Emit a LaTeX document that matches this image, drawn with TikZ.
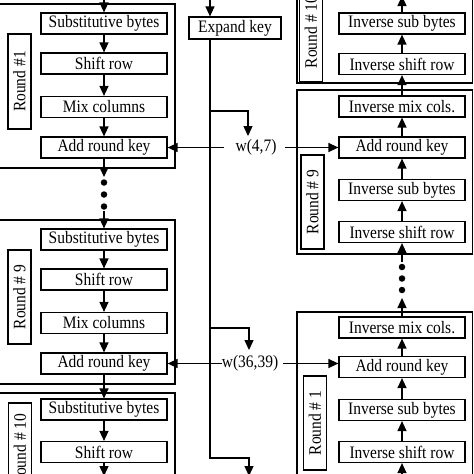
\documentclass[tikz,border=0pt]{standalone}
\usepackage{fontspec}
\setmainfont[FakeStretch=0.885]{Liberation Serif}
\usetikzlibrary{arrows.meta}
\begin{document}
\begin{tikzpicture}[x=1pt,y=-1pt,
  box/.style={draw, line width=1.2pt, minimum width=126pt, minimum height=21pt, inner sep=0pt, font=\fontsize{17.5}{19}\selectfont},
  lbl/.style={draw, line width=1.2pt, rotate=90, minimum height=23pt, inner sep=0pt, font=\fontsize{17.5}{19}\selectfont},
  frame/.style={draw, line width=1.2pt, inner sep=0pt},
  arr/.style={line width=1.3pt, -{Triangle[width=9pt,length=10pt]}},
  wlab/.style={inner sep=0pt, font=\fontsize{17.5}{19}\selectfont},
  dotc/.style={circle, fill, inner sep=0pt, minimum size=6.5pt}
]
\useasboundingbox (0,0) rectangle (474,474);
\clip (0,0) rectangle (474,474);
\fill[white] (0,0) rectangle (474,474);

% frames
\node[frame, minimum width=180pt, minimum height=164pt] (f1) at (85,86) {};
\node[frame, minimum width=180pt, minimum height=164pt] (f9) at (85,302) {};
\node[frame, minimum width=180pt, minimum height=167pt] (f10) at (85,476.5) {};
\node[frame, minimum width=175.5pt, minimum height=163pt] (g10) at (384.75,1.5) {};
\node[frame, minimum width=175.5pt, minimum height=164pt] (g9) at (384.75,172) {};
\node[frame, minimum width=175.5pt, minimum height=168pt] (g1) at (384.75,396) {};

% round labels
\node[lbl, minimum width=95pt] (l1) at (19.5,81.5) {Round \#1};
\node[lbl, minimum width=94pt] (l9) at (19.5,297) {Round \# 9};
\node[lbl, minimum width=94pt] (l10) at (20,450) {Round \# 10};
\node[lbl, minimum width=100pt] (r10) at (311,32) {Round \# 10};
\node[lbl, minimum width=94pt] (r9) at (312.5,202) {Round \# 9};
\node[lbl, minimum width=94pt] (r1) at (315,423) {Round \# 1};

% left column
\node[box] (s1) at (104,23.5) {Substitutive bytes};
\node[box] (sh1) at (104,63.5) {Shift row};
\node[box] (mx1) at (104,107) {Mix columns};
\node[box] (ad1) at (104,147.5) {Add round key};
\node[box] (s9) at (104,239.5) {Substitutive bytes};
\node[box] (sh9) at (104,279.5) {Shift row};
\node[box] (mx9) at (104,323) {Mix columns};
\node[box] (ad9) at (104,363.5) {Add round key};
\node[box] (s10) at (104,409.5) {Substitutive bytes};
\node[box] (sh10) at (104,452) {Shift row};

% right column
\node[box] (is10) at (402,23.5) {Inverse sub bytes};
\node[box] (ish10) at (402,64) {Inverse shift row};
\node[box] (im9) at (402,106.5) {Inverse mix cols.};
\node[box] (ad9d) at (402,147.5) {Add round key};
\node[box] (is9) at (402,190) {Inverse sub bytes};
\node[box] (ish9) at (402,232) {Inverse shift row};
\node[box] (im1) at (402,327.5) {Inverse mix cols.};
\node[box] (ad1d) at (402,367) {Add round key};
\node[box] (is1) at (402,410) {Inverse sub bytes};
\node[box] (ish1) at (402,452) {Inverse shift row};

% middle
\node[box, minimum width=92pt, minimum height=22pt] (exp) at (235,28) {Expand key};
\node[wlab] (w47) at (256,147.5) {w(4,7)};
\node[wlab] (w3639) at (250,363.5) {w(36,39)};

% left connectors
\coordinate (tL) at (104,-2);
\draw[arr] (tL) -- (s1);
\draw[arr] (s1) -- (sh1);
\draw[arr] (sh1) -- (mx1);
\draw[arr] (mx1) -- (ad1);
\coordinate (d1) at (104,177);
\draw[arr] (ad1) -- (d1);
\node[dotc] (dl1) at (104,182.5) {};
\node[dotc] (dl2) at (104,194.5) {};
\node[dotc] (dl3) at (104,206.5) {};
\coordinate (u9) at (104,211);
\draw[arr] (u9) -- (s9);
\draw[arr] (s9) -- (sh9);
\draw[arr] (sh9) -- (mx9);
\draw[arr] (mx9) -- (ad9);
\draw[arr] (ad9) -- (s10);
\draw[arr] (s10) -- (sh10);
\coordinate (bL) at (104,476);
\draw[arr] (sh10) -- (bL);

% middle connectors
\coordinate (tM) at (210,-2);
\draw[arr] (tM) -- (tM |- exp.north);
\coordinate (bM) at (210,458);
\coordinate (bM2) at (249,476);
\draw[arr] (exp.south -| tM) -- (bM) -| (bM2);
\coordinate (k1) at (210,111);
\coordinate (k1t) at (248,136);
\draw[arr] (k1) -| (k1t);
\draw[arr] ([xshift=-11pt]w47.west) -- (ad1);
\draw[arr] ([xshift=8pt]w47.east) -- (ad9d);
\coordinate (k2) at (210,328);
\coordinate (k2t) at (249,350);
\draw[arr] (k2) -| (k2t);
\draw[arr] (w3639.west) -- (ad9);
\draw[arr] ([xshift=5pt]w3639.east) -- (w3639 -| ad1d.west);

% right connectors
\coordinate (bR) at (402,476);
\draw[arr] (bR) -- (ish1);
\draw[arr] (ish1) -- (is1);
\draw[arr] (is1) -- (ad1d);
\draw[arr] (ad1d) -- (im1);
\coordinate (d2) at (402,298);
\draw[arr] (im1) -- (d2);
\node[dotc] (dr1) at (402,267) {};
\node[dotc] (dr2) at (402,278.5) {};
\node[dotc] (dr3) at (402,290) {};
\coordinate (u2) at (402,262);
\draw[arr] (u2) -- (ish9);
\draw[arr] (ish9) -- (is9);
\draw[arr] (is9) -- (ad9d);
\draw[arr] (ad9d) -- (im9);
\draw[arr] (im9) -- (ish10);
\draw[arr] (ish10) -- (is10);
\coordinate (tR) at (402,-4);
\draw[arr] (is10) -- (tR);
\end{tikzpicture}
\end{document}
